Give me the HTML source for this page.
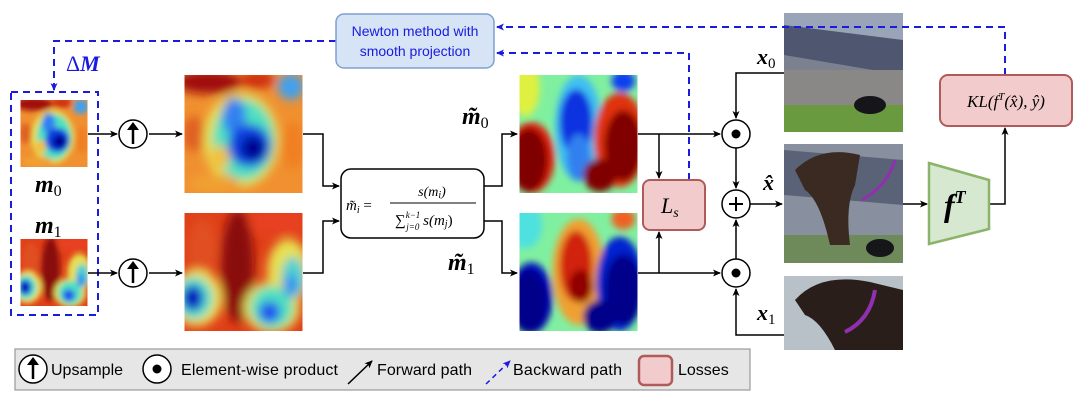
<!DOCTYPE html>
<html><head><meta charset="utf-8"><style>
html,body{margin:0;padding:0;background:#fff;width:1080px;height:407px;overflow:hidden}
svg{display:block}
.m{font-family:"Liberation Serif",serif;font-style:italic;font-weight:bold}
.s{font-family:"Liberation Sans",sans-serif}
</style></head><body>
<svg width="1080" height="407" viewBox="0 0 1080 407" xmlns="http://www.w3.org/2000/svg">
<defs>
<marker id="a" markerWidth="8" markerHeight="8" refX="7" refY="4" orient="auto" markerUnits="userSpaceOnUse"><path d="M0,0.5 L8,4 L0,7.5 L2,4z" fill="#000"/></marker>
<marker id="b" markerWidth="8" markerHeight="8" refX="7" refY="4" orient="auto" markerUnits="userSpaceOnUse"><path d="M0,0.5 L8,4 L0,7.5 L2,4z" fill="#1a1ae0"/></marker>
<filter id="bl" x="-50%" y="-50%" width="200%" height="200%"><feGaussianBlur stdDeviation="4"/></filter>
<filter id="bl2" x="-50%" y="-50%" width="200%" height="200%"><feGaussianBlur stdDeviation="3"/></filter>
<clipPath id="c"><rect width="100" height="100"/></clipPath>
<symbol id="h0" viewBox="0 0 100 100"><g clip-path="url(#c)"><rect width="100" height="100" fill="#f09030"/><g filter="url(#bl)">
<ellipse cx="20" cy="6" rx="28" ry="10" fill="#a01010"/><ellipse cx="62" cy="4" rx="15" ry="8" fill="#d03010"/>
<ellipse cx="90" cy="10" rx="11" ry="11" fill="#40a0f0"/><ellipse cx="8" cy="50" rx="10" ry="15" fill="#e06020"/>
<ellipse cx="48" cy="55" rx="32" ry="40" fill="#e8e050"/><ellipse cx="50" cy="55" rx="26" ry="34" fill="#50e0c0"/>
<ellipse cx="42" cy="35" rx="10" ry="16" fill="#3080f0"/><ellipse cx="55" cy="60" rx="18" ry="18" fill="#1040e0"/><ellipse cx="58" cy="62" rx="10" ry="10" fill="#000090"/>
<ellipse cx="92" cy="60" rx="10" ry="20" fill="#f08020"/><ellipse cx="25" cy="92" rx="22" ry="8" fill="#f0a030"/><ellipse cx="30" cy="70" rx="8" ry="10" fill="#f0c040"/></g></g></symbol>
<symbol id="h1" viewBox="0 0 100 100"><g clip-path="url(#c)"><rect width="100" height="100" fill="#e04018"/><g filter="url(#bl)">
<ellipse cx="80" cy="8" rx="25" ry="10" fill="#e84020"/><ellipse cx="88" cy="50" rx="18" ry="28" fill="#e8e050"/><ellipse cx="92" cy="55" rx="10" ry="18" fill="#50d0d0"/>
<ellipse cx="45" cy="45" rx="14" ry="48" fill="#8a0808"/><ellipse cx="15" cy="30" rx="12" ry="25" fill="#e05020"/>
<ellipse cx="10" cy="72" rx="22" ry="24" fill="#f0e050"/><ellipse cx="8" cy="72" rx="16" ry="18" fill="#50e0d0"/><ellipse cx="7" cy="72" rx="9" ry="11" fill="#0010c0"/>
<ellipse cx="74" cy="80" rx="24" ry="22" fill="#e8e050"/><ellipse cx="74" cy="80" rx="18" ry="18" fill="#50e0c0"/><ellipse cx="72" cy="84" rx="9" ry="9" fill="#2050f0"/><ellipse cx="90" cy="62" rx="6" ry="10" fill="#3090f0"/></g></g></symbol>
<symbol id="h2" viewBox="0 0 100 100"><g clip-path="url(#c)"><rect width="100" height="100" fill="#80f0a0"/><g filter="url(#bl2)">
<ellipse cx="5" cy="10" rx="12" ry="25" fill="#e0f040"/><ellipse cx="88" cy="5" rx="10" ry="9" fill="#1040f0"/>
<ellipse cx="50" cy="45" rx="20" ry="45" fill="#40c0f0"/><ellipse cx="48" cy="40" rx="14" ry="28" fill="#1030e0"/><ellipse cx="50" cy="70" rx="10" ry="20" fill="#3080f0"/>
<ellipse cx="10" cy="70" rx="20" ry="30" fill="#e02010"/><ellipse cx="8" cy="72" rx="16" ry="27" fill="#800000"/>
<ellipse cx="85" cy="55" rx="22" ry="40" fill="#e03010"/><ellipse cx="88" cy="60" rx="16" ry="30" fill="#800000"/><ellipse cx="68" cy="85" rx="14" ry="14" fill="#800000"/></g></g></symbol>
<symbol id="h3" viewBox="0 0 100 100"><g clip-path="url(#c)"><rect width="100" height="100" fill="#80f0a0"/><g filter="url(#bl2)">
<ellipse cx="5" cy="10" rx="14" ry="20" fill="#50e0e0"/><ellipse cx="88" cy="5" rx="10" ry="9" fill="#f06020"/>
<ellipse cx="50" cy="50" rx="22" ry="45" fill="#f0a030"/><ellipse cx="48" cy="45" rx="14" ry="30" fill="#d02010"/><ellipse cx="52" cy="62" rx="10" ry="14" fill="#900000"/>
<ellipse cx="10" cy="72" rx="18" ry="30" fill="#0010c0"/><ellipse cx="8" cy="75" rx="16" ry="27" fill="#00008a"/>
<ellipse cx="85" cy="60" rx="20" ry="40" fill="#0020d0"/><ellipse cx="88" cy="65" rx="16" ry="30" fill="#00008a"/><ellipse cx="68" cy="88" rx="14" ry="14" fill="#00008a"/></g></g></symbol>
</defs>

<use href="#h0" x="20" y="100" width="68" height="67"/>
<use href="#h1" x="20" y="239" width="68" height="67"/>
<use href="#h0" x="184" y="75" width="119" height="118" preserveAspectRatio="none"/>
<use href="#h1" x="184" y="213" width="119" height="118" preserveAspectRatio="none"/>
<use href="#h2" x="519" y="75" width="119" height="118" preserveAspectRatio="none"/>
<use href="#h3" x="519" y="213" width="119" height="118" preserveAspectRatio="none"/>

<g>
<rect x="784" y="13" width="119" height="119" fill="#7c8190"/>
<rect x="784" y="13" width="119" height="30" fill="#9aa4b8"/>
<polygon points="784,25 903,40 903,75 784,55" fill="#4e5670"/>
<rect x="784" y="70" width="119" height="40" fill="#8a8886"/>
<rect x="784" y="105" width="119" height="27" fill="#6a9a40"/>
<ellipse cx="870" cy="105" rx="16" ry="9" fill="#15151a"/>
<rect x="784" y="144" width="119" height="119" fill="#8890a0"/>
<polygon points="784,150 903,160 903,205 784,195" fill="#5a6278"/>
<rect x="784" y="235" width="119" height="28" fill="#6f8a5a"/>
<path d="M795,170 Q820,145 860,155 L855,185 Q845,205 850,245 L830,245 Q820,200 805,190 Z" fill="#3a2a22"/>
<ellipse cx="880" cy="248" rx="14" ry="9" fill="#15151a"/>
<rect x="784" y="276" width="119" height="74" fill="#b8c0c8"/>
<path d="M795,300 Q820,272 870,282 L903,290 L903,350 L835,350 Q820,320 805,315 Z" fill="#2a1e1a"/>
<path d="M875,290 Q870,320 845,332" stroke="#9030b0" stroke-width="4" fill="none"/>
<path d="M895,160 Q888,185 862,200" stroke="#9030b0" stroke-width="3" fill="none"/>
</g>

<g stroke="#1a1ae0" stroke-width="2" stroke-dasharray="7,5" fill="none">
<rect x="11" y="92" width="87" height="223"/>
<path d="M336,41 H54 V90" marker-end="url(#b)"/>
<path d="M1005,75 V27 H497" marker-end="url(#b)"/>
<path d="M689,180 V53 H497" marker-end="url(#b)"/>
</g>

<rect x="336" y="14" width="158" height="54" rx="8" fill="#d6e4f5" stroke="#7f9fd0" stroke-width="1.5"/>
<text class="s" x="415" y="36" font-size="14" text-anchor="middle" fill="#1a1ae0">Newton method with</text>
<text class="s" x="415" y="56" font-size="14" text-anchor="middle" fill="#1a1ae0">smooth projection</text>
<text x="66" y="71" font-family="Liberation Serif,serif" font-size="22" fill="#1a1ae0">Δ<tspan font-style="italic" font-weight="bold">M</tspan></text>

<text class="m" x="35" y="192" font-size="24">m<tspan font-size="16" font-weight="normal" font-style="normal" dy="4">0</tspan></text>
<text class="m" x="35" y="233" font-size="24">m<tspan font-size="16" font-weight="normal" font-style="normal" dy="4">1</tspan></text>

<g stroke="#000" stroke-width="1.5" fill="none">
<path d="M88,134 H117" marker-end="url(#a)"/>
<path d="M149,134 H182" marker-end="url(#a)"/>
<path d="M88,273 H117" marker-end="url(#a)"/>
<path d="M149,273 H182" marker-end="url(#a)"/>
<path d="M303,134 H323 V186 H339" marker-end="url(#a)"/>
<path d="M303,273 H323 V221 H339" marker-end="url(#a)"/>
<path d="M484,186 H502 V134 H517" marker-end="url(#a)"/>
<path d="M484,221 H502 V273 H517" marker-end="url(#a)"/>
<path d="M638,134 H720" marker-end="url(#a)"/>
<path d="M638,273 H720" marker-end="url(#a)"/>
<path d="M659,134 V178" marker-end="url(#a)"/>
<path d="M659,273 V232" marker-end="url(#a)"/>
<path d="M784,73 H736 V118" marker-end="url(#a)"/>
<path d="M784,335 H736 V289" marker-end="url(#a)"/>
<path d="M736,148 V188" marker-end="url(#a)"/>
<path d="M736,259 V220" marker-end="url(#a)"/>
<path d="M750,204 H782" marker-end="url(#a)"/>
<path d="M903,204 H927" marker-end="url(#a)"/>
<path d="M989,204 H1005 V128" marker-end="url(#a)"/>
</g>

<g fill="#fff" stroke="#000" stroke-width="1.5">
<circle cx="133" cy="134" r="14"/><circle cx="133" cy="273" r="14"/>
<circle cx="736" cy="134" r="14"/><circle cx="736" cy="204" r="14"/><circle cx="736" cy="273" r="14"/>
</g>
<g stroke="#000" stroke-width="2.5"><path d="M133,144 V127"/><path d="M133,283 V266"/></g>
<path d="M127,130 L133,122 L139,130Z M127,269 L133,261 L139,269Z" fill="#000"/>
<circle cx="736" cy="134" r="4.5"/><circle cx="736" cy="273" r="4.5"/>
<path d="M729,204 H743 M736,197 V211" stroke="#000" stroke-width="2"/>

<rect x="341" y="169" width="143" height="69" rx="10" fill="#fff" stroke="#000" stroke-width="1.5"/>
<text x="346" y="210" font-family="Liberation Serif,serif" font-size="15"><tspan font-style="italic">m̃</tspan><tspan font-size="10" font-style="italic" dy="3">i</tspan><tspan dy="-3"> =</tspan></text>
<text x="432" y="196" font-family="Liberation Serif,serif" font-size="14" text-anchor="middle" font-style="italic">s(m<tspan font-size="10" dy="2">i</tspan><tspan dy="-2">)</tspan></text>
<line x1="390" y1="203" x2="476" y2="203" stroke="#000" stroke-width="1"/>
<text x="395" y="225" font-family="Liberation Serif,serif" font-size="15">∑<tspan font-size="9" font-style="italic" dy="-7">k−1</tspan><tspan font-size="9" font-style="italic" dx="-14" dy="12">j=0</tspan><tspan font-style="italic" dy="-5"> s(m</tspan><tspan font-size="10" font-style="italic" dy="2">j</tspan><tspan dy="-2">)</tspan></text>

<text class="m" x="462" y="124" font-size="24">m̃<tspan font-size="16" font-weight="normal" font-style="normal" dy="4">0</tspan></text>
<text class="m" x="448" y="270" font-size="24">m̃<tspan font-size="16" font-weight="normal" font-style="normal" dy="4">1</tspan></text>
<text class="m" x="757" y="64" font-size="22">x<tspan font-size="15" font-weight="normal" font-style="normal" dy="4">0</tspan></text>
<text class="m" x="763" y="190" font-size="22">x̂</text>
<text class="m" x="757" y="320" font-size="22">x<tspan font-size="15" font-weight="normal" font-style="normal" dy="4">1</tspan></text>

<rect x="643" y="180" width="62" height="50" rx="7" fill="#f2cccc" stroke="#b05a5a" stroke-width="2"/>
<text x="661" y="213" font-family="Liberation Serif,serif" font-size="22" font-style="italic">L<tspan font-size="14" dy="4">s</tspan></text>

<rect x="940" y="75" width="132" height="51" rx="8" fill="#f2cccc" stroke="#b05a5a" stroke-width="2"/>
<text x="1006" y="107" font-family="Liberation Serif,serif" font-size="17" font-style="italic" text-anchor="middle">KL(f<tspan font-size="11" dy="-7">T</tspan><tspan dy="7">(x̂), ŷ)</tspan></text>

<polygon points="929,163 989,180 989,229 929,244" fill="#d6e8d0" stroke="#8ab46a" stroke-width="2.5"/>
<text x="944" y="216" font-family="Liberation Serif,serif" font-size="32" font-style="italic" font-weight="bold">f<tspan font-size="18" dy="-13">T</tspan></text>

<rect x="15" y="349" width="735" height="41" fill="#e6e6e6" stroke="#999" stroke-width="1.2"/>
<circle cx="33" cy="369" r="14" fill="#fff" stroke="#000" stroke-width="1.5"/>
<path d="M33,379 V363" stroke="#000" stroke-width="2.5"/><path d="M27,365 L33,357 L39,365Z" fill="#000"/>
<text class="s" x="51" y="375" font-size="16">Upsample</text>
<circle cx="157" cy="369" r="14" fill="#fff" stroke="#000" stroke-width="1.5"/><circle cx="157" cy="369" r="4.5"/>
<text class="s" x="181" y="375" font-size="16" textLength="157">Element-wise product</text>
<path d="M348,384 L372,361" stroke="#000" stroke-width="1.5" marker-end="url(#a)"/>
<text class="s" x="377" y="375" font-size="16" textLength="95">Forward path</text>
<path d="M486,384 L510,361" stroke="#1a1ae0" stroke-width="1.5" stroke-dasharray="5,4" marker-end="url(#b)"/>
<text class="s" x="513" y="375" font-size="16" textLength="109">Backward path</text>
<rect x="639" y="356" width="33" height="29" rx="5" fill="#f2cccc" stroke="#b05a5a" stroke-width="2.5"/>
<text class="s" x="678" y="375" font-size="16">Losses</text>
</svg>
</body></html>
